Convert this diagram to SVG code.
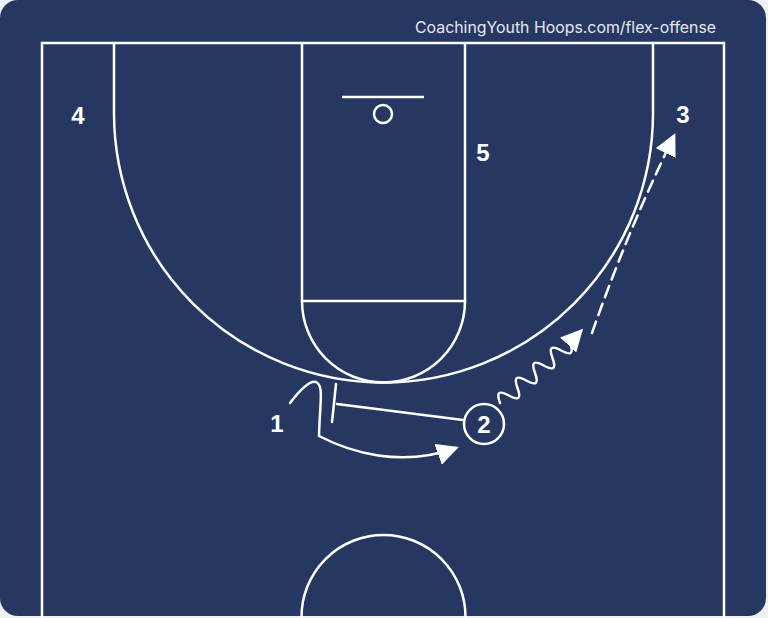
<svg xmlns="http://www.w3.org/2000/svg" width="768" height="618" viewBox="0 0 768 618">
<defs>
<style>
.court{fill:none;stroke:#ffffff;stroke-width:2.5}
.play{fill:none;stroke:#ffffff;stroke-width:2.5;stroke-linecap:round;stroke-linejoin:round}
.num{font-family:"Liberation Sans",Arial,sans-serif;font-weight:bold;font-size:24px;fill:#ffffff;text-anchor:middle}
.credit{font-family:Inter,"Open Sans",sans-serif;font-size:16px;fill:#e6e9f0}
</style>
<marker id="arrow" markerUnits="userSpaceOnUse" viewBox="0 0 22 22" markerWidth="22" markerHeight="22" refX="19" refY="11" orient="auto">
<path d="M0,0 L22,11 L0,22 Z" fill="#ffffff"/>
</marker>
</defs>
<rect x="0" y="0" width="768" height="618" fill="#eef0f4"/>
<rect x="0" y="0" width="766" height="616" rx="18" ry="18" fill="#263862"/>
<g id="court">
<path class="court" d="M42,618 V43 H724 V618"/>
<path class="court" d="M302,43 V301 H465 V43"/>
<path class="court" d="M302,301 A81.5,81.5 0 0 0 465,301"/>
<path class="court" d="M114,43 V113 A269.5,269.5 0 0 0 653,113 V43"/>
<line class="court" x1="342" y1="97" x2="424" y2="97"/>
<circle class="court" cx="383" cy="114" r="9"/>
<circle class="court" cx="383.5" cy="617" r="82"/>
</g>
<text class="credit" x="415" y="33" textLength="301" lengthAdjust="spacingAndGlyphs">CoachingYouth Hoops.com/flex-offense</text>
<g id="player4"><text class="num" x="78" y="124">4</text></g>
<g id="player5"><text class="num" x="483" y="161">5</text></g>
<g id="player3"><text class="num" x="683" y="123">3</text></g>
<g id="player1"><text class="num" x="277" y="432">1</text></g>
<g id="player2">
<circle cx="484" cy="424" r="20" fill="none" stroke="#ffffff" stroke-width="2.5"/>
<text class="num" x="484" y="433">2</text>
</g>
<g id="connectors">
<path class="play" marker-end="url(#arrow)" d="M290,403 C300,390 310,380 316,382 C324,386 320,400 319,436 C350,452 400,468 456,448"/>
<path class="play" d="M337,404 L463,420"/>
<path class="play" d="M336,384 L332,422"/>
<path class="play" marker-end="url(#arrow)" d="M500,403 Q494,387.1 508.75,395.5 Q523.5,403.9 517.5,388 Q511.5,372.1 526.25,380.5 Q541,388.9 535,373 Q529,357.1 543.75,365.5 Q558.5,373.9 552.5,358 Q546.5,342.1 561.25,350.5 Q576,358.9 570,343 L581,331"/>
<path class="play" marker-end="url(#arrow)" stroke-dasharray="12,7" d="M592,333 Q628,230 674,136"/>
</g>
</svg>
